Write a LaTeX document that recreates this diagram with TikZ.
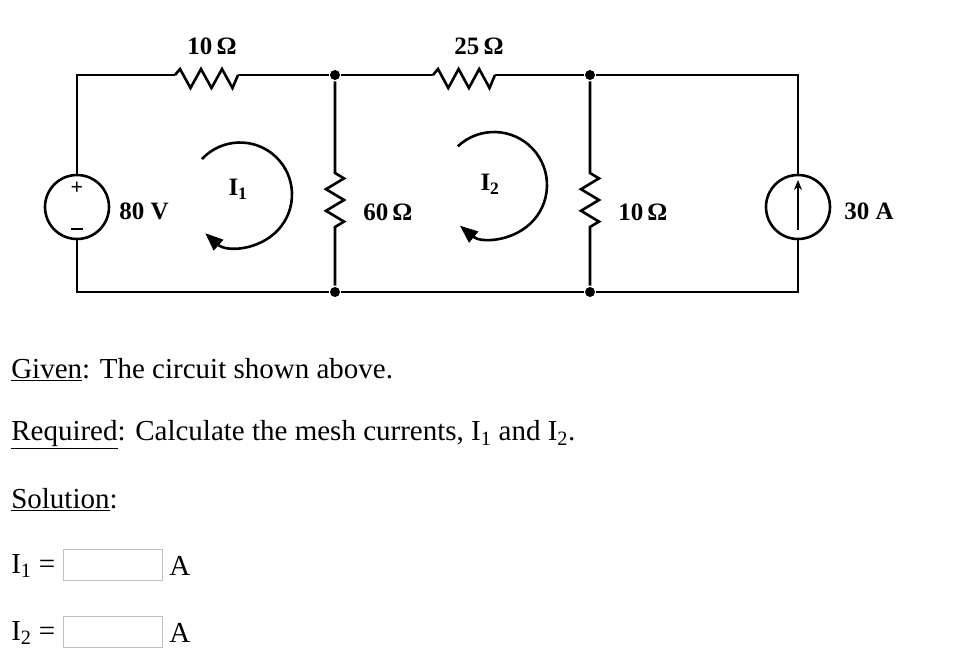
\documentclass[tikz,border=0pt]{standalone}
\usepackage{fontspec}
\setmainfont{Liberation Serif}
\usetikzlibrary{arrows.meta}
\begin{document}
\begin{tikzpicture}[x=1pt,y=-1pt,line width=2.6pt,
  dot/.style={circle,fill,inner sep=0pt,minimum size=10pt},
  src/.style={circle,draw,line width=2.6pt,minimum size=64pt,inner sep=0pt},
  lbl/.style={font=\bfseries\fontsize{25}{27}\selectfont,inner sep=0pt},
  mesh/.style={line width=2.6pt,-{Triangle[length=18pt,width=14pt]}},
  txt/.style={font=\fontsize{29}{32}\selectfont,anchor=west,inner sep=0pt},
  ansbox/.style={draw=black!25,line width=1.2pt,minimum width=99pt,minimum height=31pt,inner sep=0pt}]
\useasboundingbox (0,0) rectangle (964,662);
% corners and junctions
\coordinate (tl) at (77,75);
\coordinate (bl) at (77,292);
\node[dot] (tm) at (335,75) {};
\node[dot] (bm) at (335,292) {};
\node[dot] (tr) at (590,75) {};
\node[dot] (br) at (590,292) {};
\coordinate (tr2) at (798,75);
\coordinate (br2) at (798,292);
% sources
\node[src] (vs) at (77,207) {};
\node[font=\bfseries\fontsize{22}{22}\selectfont,inner sep=0pt] at (77,188) {+};
\draw[line width=2.4pt] (71,229) -- (83,229);
\node[src] (cs) at (798,207) {};
\draw[line width=2.4pt,-{Stealth[length=10pt,width=8pt]}] (798,230) -- (798,180);
% resistor endpoints
\coordinate (r1a) at (175,75); \coordinate (r1b) at (238,75);
\coordinate (r2a) at (433,75); \coordinate (r2b) at (495,75);
\coordinate (r3a) at (335,173); \coordinate (r3b) at (335,238);
\coordinate (r4a) at (590,173); \coordinate (r4b) at (590,238);
% wires
\draw (vs.north) -- (tl) -- (r1a);
\draw (r1a) -- ++(5,-6) -- ++(10.5,19) -- ++(10.5,-19) -- ++(10.5,19) -- ++(10.5,-19) -- ++(10.5,19) -- (r1b);
\draw (r1b) -- (tm) -- (r2a);
\draw (r2a) -- ++(5,-6) -- ++(10.3,19) -- ++(10.3,-19) -- ++(10.3,19) -- ++(10.3,-19) -- ++(10.3,19) -- (r2b);
\draw (r2b) -- (tr) -- (tr2) -- (cs.north);
\draw (vs.south) -- (bl) -- (bm) -- (br) -- (br2) -- (cs.south);
\draw (tm) -- (r3a) -- ++(9,5.4) -- ++(-18,10.8) -- ++(18,10.8) -- ++(-18,10.8) -- ++(18,10.8) -- ++(-9,5.4) -- (r3b) -- (bm);
\draw (tr) -- (r4a) -- ++(9,5.4) -- ++(-18,10.8) -- ++(18,10.8) -- ++(-18,10.8) -- ++(18,10.8) -- ++(-9,5.4) -- (r4b) -- (br);
% labels
\node[lbl] at (212,46) {10\,Ω};
\node[lbl] at (479,46) {25\,Ω};
\node[lbl,anchor=west] at (118,211) {80 V};
\node[lbl,anchor=west] at (362,212) {60\,Ω};
\node[lbl,anchor=west] at (617,212) {10\,Ω};
\node[lbl,anchor=west] at (843,211) {30 A};
\node[lbl] at (238,189) {I\textsubscript{1}};
\node[lbl] at (490,184) {I\textsubscript{2}};
% mesh currents
\draw[mesh] (240,194.5) ++(-137:52) arc[start angle=-137,end angle=132,radius=52];
\draw[mesh] (494,185) ++(-133:53) arc[start angle=-133,end angle=130,radius=53];
% text
\node[txt] at (10,370) {\underline{Given}: The circuit shown above.};
\node[txt] at (10,435) {\underline{Required}: Calculate the mesh currents, I\textsubscript{1} and I\textsubscript{2}.};
\node[txt] at (10,500) {\underline{Solution}:};
\node[txt] at (10,566) {I\textsubscript{1} =};
\node[ansbox] (b1) at (113,565) {};
\node[txt] at (168,566) {A};
\node[txt] at (10,633) {I\textsubscript{2} =};
\node[ansbox] (b2) at (113,632) {};
\node[txt] at (168,633) {A};
\end{tikzpicture}
\end{document}
